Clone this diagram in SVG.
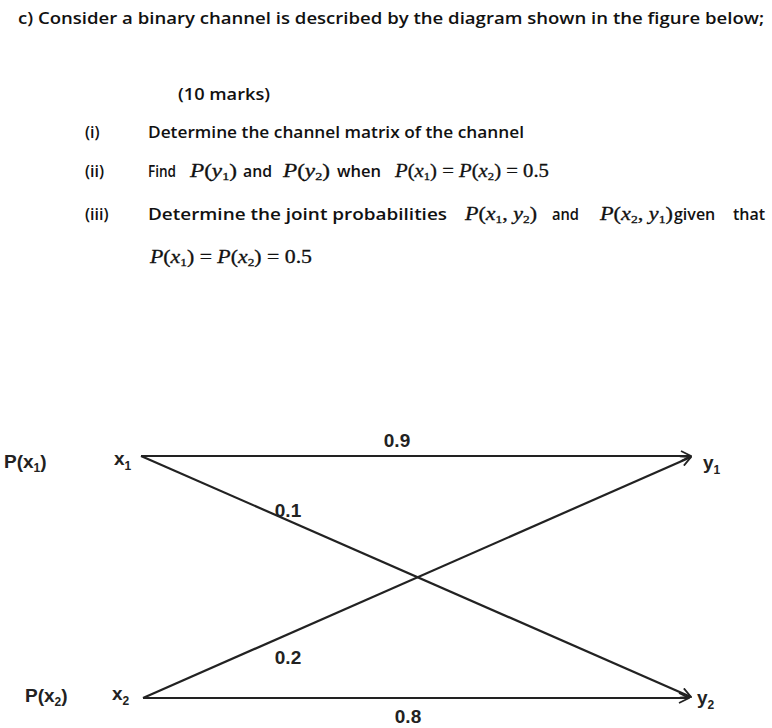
<svg xmlns="http://www.w3.org/2000/svg" width="772" height="728" viewBox="0 0 772 728">
<defs>
<marker id="arr" markerWidth="12" markerHeight="12" refX="11" refY="6" orient="auto" markerUnits="userSpaceOnUse">
<path d="M1,1 L11,6 L1,11" fill="none" stroke="#222" stroke-width="1.8"/>
</marker>
<style>
.t{font-family:"Open Sans","Liberation Sans",sans-serif;font-size:16px;font-weight:600;fill:#111}
.m{font-family:"Liberation Serif","Times New Roman",serif;font-size:18px;fill:#111;stroke:#111;stroke-width:0.3}
.i{font-style:italic}
.s{font-size:11px}
.l{font-family:"Liberation Sans",sans-serif;font-size:19px;fill:#222;font-weight:bold}
.ls{font-size:12px}
.e{stroke:#222;stroke-width:2.2;fill:none}
</style>
</defs>
<rect width="772" height="728" fill="#fff"/>
<text class="t" x="18" y="24" textLength="746" lengthAdjust="spacingAndGlyphs">c)  Consider a binary channel is described by the diagram shown in the figure below;</text>
<text class="t" x="178" y="100" textLength="92" lengthAdjust="spacingAndGlyphs">(10 marks)</text>
<text class="t" x="85" y="138">(i)</text>
<text class="t" x="148" y="138" textLength="376" lengthAdjust="spacingAndGlyphs">Determine the channel matrix of the channel</text>
<text class="t" x="85" y="177">(ii)</text>
<text class="t" x="148" y="177" textLength="28" lengthAdjust="spacingAndGlyphs">Find</text>
<text class="m" x="190" y="177" textLength="47" lengthAdjust="spacingAndGlyphs"><tspan class="i">P</tspan>(<tspan class="i">y</tspan><tspan class="s" dy="3">1</tspan><tspan dy="-3">)</tspan></text>
<text class="t" x="243" y="177" textLength="29" lengthAdjust="spacingAndGlyphs">and</text>
<text class="m" x="283" y="177" textLength="47" lengthAdjust="spacingAndGlyphs"><tspan class="i">P</tspan>(<tspan class="i">y</tspan><tspan class="s" dy="3">2</tspan><tspan dy="-3">)</tspan></text>
<text class="t" x="337" y="177" textLength="44" lengthAdjust="spacingAndGlyphs">when</text>
<text class="m" x="395" y="177" textLength="154" lengthAdjust="spacingAndGlyphs"><tspan class="i">P</tspan>(<tspan class="i">x</tspan><tspan class="s" dy="3">1</tspan><tspan dy="-3">) = </tspan><tspan class="i">P</tspan>(<tspan class="i">x</tspan><tspan class="s" dy="3">2</tspan><tspan dy="-3">) = 0.5</tspan></text>
<text class="t" x="85" y="220">(iii)</text>
<text class="t" x="148" y="220" textLength="299" lengthAdjust="spacingAndGlyphs">Determine  the  joint  probabilities</text>
<text class="m" x="465" y="220" textLength="72" lengthAdjust="spacingAndGlyphs"><tspan class="i">P</tspan>(<tspan class="i">x</tspan><tspan class="s" dy="3">1</tspan><tspan dy="-3">, </tspan><tspan class="i">y</tspan><tspan class="s" dy="3">2</tspan><tspan dy="-3">)</tspan></text>
<text class="t" x="552" y="220" textLength="27" lengthAdjust="spacingAndGlyphs">and</text>
<text class="m" x="600" y="220" textLength="73" lengthAdjust="spacingAndGlyphs"><tspan class="i">P</tspan>(<tspan class="i">x</tspan><tspan class="s" dy="3">2</tspan><tspan dy="-3">, </tspan><tspan class="i">y</tspan><tspan class="s" dy="3">1</tspan><tspan dy="-3">)</tspan></text>
<text class="t" x="674" y="220">given</text>
<text class="t" x="733" y="220">that</text>
<text class="m" x="150" y="263" textLength="162" lengthAdjust="spacingAndGlyphs"><tspan class="i">P</tspan>(<tspan class="i">x</tspan><tspan class="s" dy="3">1</tspan><tspan dy="-3">) = </tspan><tspan class="i">P</tspan>(<tspan class="i">x</tspan><tspan class="s" dy="3">2</tspan><tspan dy="-3">) = 0.5</tspan></text>
<g id="connectors">
<line class="e" x1="141" y1="456" x2="691" y2="456" marker-end="url(#arr)"/>
<line class="e" x1="141" y1="456" x2="691" y2="697" marker-end="url(#arr)"/>
<line class="e" x1="143" y1="698" x2="691" y2="457" marker-end="url(#arr)"/>
<line class="e" x1="143" y1="698" x2="689" y2="698" marker-end="url(#arr)"/>
</g>
<g id="edge-labels">
<text class="l" x="397" y="447" text-anchor="middle">0.9</text>
<text class="l" x="288" y="517" text-anchor="middle">0.1</text>
<text class="l" x="288" y="664" text-anchor="middle">0.2</text>
<text class="l" x="408" y="723" text-anchor="middle">0.8</text>
</g>
<g id="px1"><text class="l" x="4" y="468">P(x<tspan class="ls" dy="4">1</tspan><tspan dy="-4">)</tspan></text></g>
<g id="x1"><text class="l" x="114" y="465">x<tspan class="ls" dy="5">1</tspan></text></g>
<g id="y1"><text class="l" x="703" y="469">y<tspan class="ls" dy="5">1</tspan></text></g>
<g id="px2"><text class="l" x="25" y="702">P(x<tspan class="ls" dy="4">2</tspan><tspan dy="-4">)</tspan></text></g>
<g id="x2"><text class="l" x="112" y="700">x<tspan class="ls" dy="5">2</tspan></text></g>
<g id="y2"><text class="l" x="697" y="704">y<tspan class="ls" dy="5">2</tspan></text></g>
</svg>
